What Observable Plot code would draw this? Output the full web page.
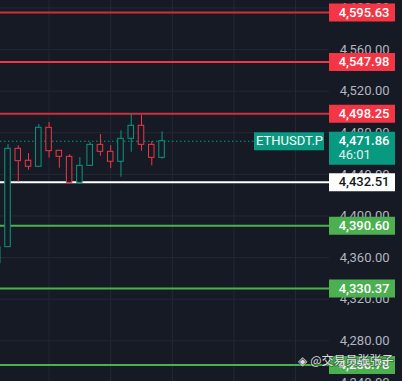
<!DOCTYPE html>
<html>
<head>
<meta charset="utf-8">
<script src="https://cdn.jsdelivr.net/npm/d3@7"></script>
<script src="https://cdn.jsdelivr.net/npm/@observablehq/plot@0.6"></script>
<style>
  html, body { margin: 0; padding: 0; background: #161a25; overflow: hidden; }
  #chart svg { display: block; }
</style>
</head>
<body>
<div id="chart"></div>
<script>
// ---------- data ----------
const symbol = "ETHUSDT.P";
const countdown = "46:01";
const lastPrice = 4471.86;
const candleIndex = [-1, 0, 1, 2, 3, 4, 5, 6, 7, 8, 9, 10, 11, 12, 13, 14, 15];
const opens  = [4354.6, 4370.0, 4464.6, 4453.1, 4447.3, 4484.8, 4462.7, 4456.9, 4431.9, 4448.2, 4468.4, 4461.7, 4452.1, 4474.2, 4486.7, 4468.4, 4455.9];
const closes = [4370.0, 4464.6, 4452.7, 4447.3, 4484.8, 4462.3, 4456.9, 4431.9, 4448.2, 4468.4, 4461.7, 4452.1, 4474.2, 4486.7, 4468.4, 4455.9, 4471.86];
const highs  = [4372.0, 4468.7, 4467.5, 4460.1, 4488.0, 4489.9, 4462.7, 4458.8, 4456.2, 4470.7, 4478.3, 4467.5, 4481.9, 4497.6, 4496.6, 4471.3, 4480.9];
const lows   = [4340.0, 4370.0, 4432.5, 4444.0, 4447.3, 4455.6, 4445.9, 4430.6, 4430.6, 4448.2, 4457.5, 4445.7, 4437.3, 4461.3, 4462.3, 4448.2, 4454.6];

const levelValues = [4595.63, 4547.98, 4498.25, 4432.51, 4390.60, 4330.37, 4256.78];
const levelKinds  = ["r1", "r2", "r1", "pivot", "support", "support", "support"];

const priceTicks = [4240, 4280, 4320, 4360, 4400, 4440, 4480, 4520, 4560, 4600];
const timeGrid = [4, 10, 16, 22, 28];
const watermark = "◈ @交易员张张子";

// ---------- styles / layout ----------
const W = 402, H = 381;
const BG = "#161a25";
const UP = "#089981", DOWN = "#f23645";
const lineColor = {r1: "#cf2f3d", r2: "#f23645", pivot: "#ffffff", support: "#4caf50"};
const boxColor  = {r1: "#f23645", r2: "#f23645", pivot: "#ffffff", support: "#4caf50"};
const textColor = {r1: "#ffffff", r2: "#ffffff", pivot: "#131722", support: "#ffffff"};
const X0 = 7.5, STEP = 10.27;          // px of first candle, px per candle
const AXIS_LEFT = 329, BOX_RIGHT = 395, LABEL_RIGHT = 389;
const xDomain = [(0 - X0) / STEP, (W - X0) / STEP];
const yDomain = [4240.85, 4607.19];
const FONT = "Roboto, 'Liberation Sans', sans-serif";

const fmt = d3.format(",.2f");
const candles = candleIndex.map((i, k) => ({i, open: opens[k], close: closes[k], high: highs[k], low: lows[k]}));
const levels = levelValues.map((v, k) => ({v, kind: levelKinds[k]}));

const chart = Plot.plot({
  width: W, height: H, margin: 0,
  x: {domain: xDomain, axis: null},
  y: {domain: yDomain, axis: null},
  style: {background: BG, fontFamily: FONT},
  marks: [
    // grid
    Plot.ruleY(priceTicks, {stroke: "#242835", strokeWidth: 1, insetRight: W - AXIS_LEFT}),
    Plot.ruleX(timeGrid, {stroke: "#242835", strokeWidth: 1}),
    // price axis tick labels
    Plot.text(priceTicks, {y: d => d, text: d => fmt(d), frameAnchor: "right", dx: -(W - LABEL_RIGHT), textAnchor: "end", fill: "#b2b5be", fontSize: 13}),
    // last price dotted line
    Plot.ruleY([lastPrice], {stroke: UP, strokeWidth: 1, strokeDasharray: "1.5,2.5", insetRight: W - 254}),
    // level lines
    Plot.ruleY(levels, {y: "v", stroke: d => lineColor[d.kind], strokeWidth: 2, insetRight: W - AXIS_LEFT}),
    // candles
    Plot.ruleX(candles, {x: "i", y1: "low", y2: "high", stroke: d => d.close >= d.open ? UP : DOWN, strokeWidth: 1}),
    Plot.rect(candles, {x1: "i", x2: "i", y1: "open", y2: "close", insetLeft: -2.75, insetRight: -2.75,
      fill: BG, stroke: d => d.close >= d.open ? UP : DOWN, strokeWidth: 1}),
    // level label boxes
    Plot.ruleY(levels, {y: "v", stroke: d => boxColor[d.kind], strokeWidth: 18, insetLeft: AXIS_LEFT, insetRight: W - BOX_RIGHT}),
    Plot.text(levels, {y: "v", text: d => fmt(d.v), frameAnchor: "right", dx: -(W - LABEL_RIGHT), textAnchor: "end",
      fill: d => textColor[d.kind], fontSize: 13, fontWeight: 500}),
    // symbol tag + last price tag
    Plot.ruleY([lastPrice], {stroke: UP, strokeWidth: 18, insetLeft: 254, insetRight: W - 324}),
    Plot.text([symbol], {y: lastPrice, text: d => d, frameAnchor: "left", dx: 289, textAnchor: "middle", fill: "#ffffff", fontSize: 13}),
    Plot.rect([lastPrice], {y1: d => d, y2: d => d, insetTop: -9, insetBottom: -24, insetLeft: AXIS_LEFT, insetRight: W - BOX_RIGHT, fill: UP}),
    Plot.text([lastPrice], {y: d => d, text: d => fmt(d), frameAnchor: "right", dx: -(W - LABEL_RIGHT), textAnchor: "end", fill: "#ffffff", fontSize: 13, fontWeight: 500}),
    Plot.text([countdown], {y: lastPrice, text: d => d, frameAnchor: "left", dx: 338, dy: 14, textAnchor: "start", fill: "#e0f2ee", fontSize: 13}),
    // watermark
    Plot.text([watermark], {frameAnchor: "bottom-right", dx: -9, dy: -17, textAnchor: "end", fill: "#ffffff", fillOpacity: 0.85,
      fontSize: 12, fontFamily: "'Noto Sans CJK SC', sans-serif", stroke: "#161a25", strokeWidth: 2, strokeOpacity: 0.4})
  ]
});
document.getElementById("chart").appendChild(chart);
</script>
</body>
</html>
